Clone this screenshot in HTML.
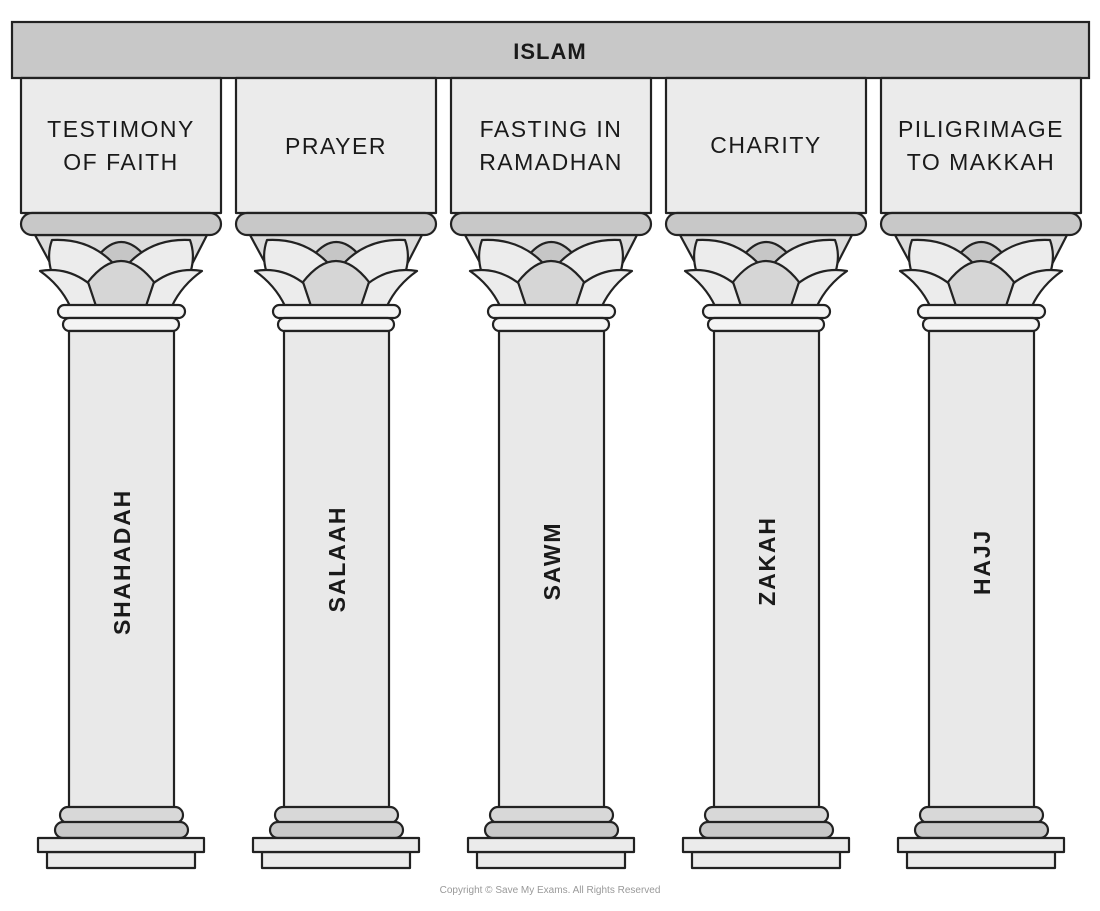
<!DOCTYPE html>
<html><head><meta charset="utf-8"><style>
html,body{margin:0;padding:0;background:#fff;width:1100px;height:911px;overflow:hidden}
svg text{font-family:"Liberation Sans","DejaVu Sans",sans-serif;fill:#1a1a1a}
</style></head><body>
<svg width="1100" height="911" viewBox="0 0 1100 911" xmlns="http://www.w3.org/2000/svg">
<defs>
<g id="p" stroke="#222" stroke-width="2.2" stroke-linejoin="round">
  <rect x="21" y="78" width="200" height="135" fill="#ebebeb"/>
  <path d="M35 235 L207 235 L188 272 L55 272 Z" fill="#dcdcdc"/>
  <path d="M98 256 Q121 228 145 256 L145 264 L98 264 Z" fill="#c6c6c6"/>
  <path d="M52 240 Q88 238 112 262 L112 292 L58 287 Q44 262 52 240 Z" fill="#ececec"/>
  <path d="M190 240 Q154 238 130 262 L130 292 L184 287 Q198 262 190 240 Z" fill="#ececec"/>
  <path d="M40 271 Q80 264 110 306 L70 306 Q60 285 40 271 Z" fill="#ececec"/>
  <path d="M202 271 Q162 264 132 306 L172 306 Q182 285 202 271 Z" fill="#ececec"/>
  <path d="M88 282 Q121 240 154 282 L146 306 L96 306 Z" fill="#d6d6d6"/>
  <rect x="21" y="213" width="200" height="22" rx="11" fill="#c8c8c8"/>
  <rect x="58" y="305" width="127" height="13" rx="6.5" fill="#f4f4f4"/>
  <rect x="63" y="318" width="116" height="13" rx="6.5" fill="#f4f4f4"/>
  <rect x="69" y="331" width="105" height="477" fill="#e9e9e9"/>
  <rect x="60" y="807" width="123" height="16" rx="8" fill="#d8d8d8"/>
  <rect x="55" y="822" width="133" height="16" rx="8" fill="#c8c8c8"/>
  <rect x="47" y="852" width="148" height="16" fill="#ebebeb"/>
  <rect x="38" y="838" width="166" height="14" fill="#ebebeb"/>
</g>
</defs>
<rect x="12" y="22" width="1077" height="56" fill="#c8c8c8" stroke="#222" stroke-width="2.2"/>
<text x="550" y="59" text-anchor="middle" font-size="22" font-weight="bold" letter-spacing="1">ISLAM</text>
<use href="#p" x="0"/>
<use href="#p" x="215"/>
<use href="#p" x="430"/>
<use href="#p" x="645"/>
<use href="#p" x="860"/>
<g font-size="23" text-anchor="middle" letter-spacing="1.5">
<text x="121" y="137">TESTIMONY</text><text x="121" y="170">OF FAITH</text>
<text x="336" y="154">PRAYER</text>
<text x="551" y="137">FASTING IN</text><text x="551" y="170">RAMADHAN</text>
<text x="766" y="153">CHARITY</text>
<text x="981" y="137">PILIGRIMAGE</text><text x="981" y="170">TO MAKKAH</text>
</g>
<g font-size="23" font-weight="bold" text-anchor="middle" letter-spacing="1.8">
<text transform="translate(130,562) rotate(-90)">SHAHADAH</text>
<text transform="translate(345,559) rotate(-90)">SALAAH</text>
<text transform="translate(560,561) rotate(-90)">SAWM</text>
<text transform="translate(775,561) rotate(-90)">ZAKAH</text>
<text transform="translate(990,562) rotate(-90)">HAJJ</text>
</g>
<text x="550" y="893" text-anchor="middle" font-size="10" style="fill:#999">Copyright © Save My Exams. All Rights Reserved</text>
</svg>
</body></html>
